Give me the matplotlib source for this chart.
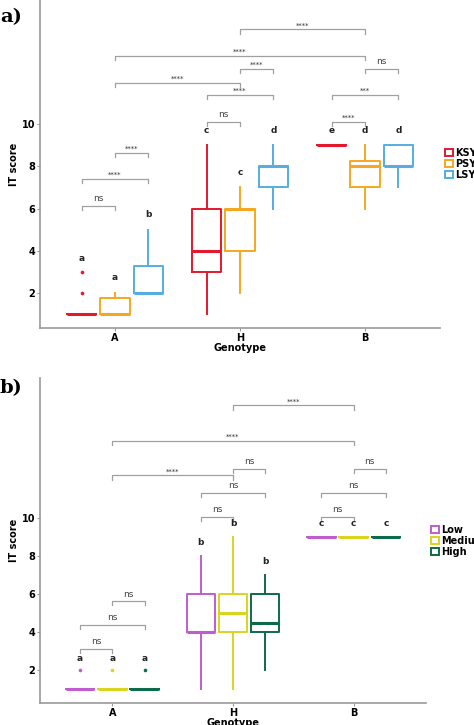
import matplotlib
matplotlib.use("Agg")
import matplotlib.pyplot as plt
from matplotlib.patches import Patch

genotypes = ["A", "H", "B"]

# Panel a: per genotype, per line: (whislo, q1, med, q3, whishi)
a_groups = ["KSY", "PSY", "LSY"]
a_colors = ["#E3182D", "#F5A81F", "#55AEDF"]
a_stats = {
    "KSY": [(1, 1, 1, 1, 1), (1, 3, 4, 6, 9), (9, 9, 9, 9, 9)],
    "PSY": [(1, 1, 1, 1.75, 2), (2, 4, 6, 6, 7), (6, 7, 8, 8.25, 9)],
    "LSY": [(2, 2, 2, 3.25, 5), (6, 7, 8, 8, 9), (7, 8, 8, 9, 9)],
}
a_fliers = {"KSY": [[2, 3], [], []], "PSY": [[], [], []], "LSY": [[], [], []]}
a_letters = {"KSY": ["a", "c", "e"], "PSY": ["a", "c", "d"], "LSY": ["b", "d", "d"]}
a_letter_y = {"KSY": [3.4, 9.5, 9.5], "PSY": [2.5, 7.5, 9.5], "LSY": [5.5, 9.5, 9.5]}
# brackets: (x1 genotype idx, x1 group idx, x2 genotype idx, x2 group idx, y, label)
a_brackets = [
    (0, 0, 0, 1, 6.12, "ns"), (0, 0, 0, 2, 7.39, "****"), (0, 1, 0, 2, 8.64, "****"),
    (1, 0, 1, 1, 10.11, "ns"), (1, 0, 1, 2, 11.38, "****"), (1, 1, 1, 2, 12.64, "****"),
    (2, 0, 2, 1, 10.11, "****"), (2, 0, 2, 2, 11.38, "***"), (2, 1, 2, 2, 12.64, "ns"),
    (0, 1, 1, 1, 11.96, "****"), (0, 1, 2, 1, 13.24, "****"), (1, 1, 2, 1, 14.5, "****"),
]

# Panel b
b_groups = ["Low", "Medium", "High"]
b_colors = ["#C05CCF", "#D8D420", "#0C6B4A"]
b_stats = {
    "Low": [(1, 1, 1, 1, 1), (1, 4, 4, 6, 8), (9, 9, 9, 9, 9)],
    "Medium": [(1, 1, 1, 1, 1), (1, 4, 5, 6, 9), (9, 9, 9, 9, 9)],
    "High": [(1, 1, 1, 1, 1), (2, 4, 4.5, 6, 7), (9, 9, 9, 9, 9)],
}
b_fliers = {"Low": [[2], [], []], "Medium": [[2], [], []], "High": [[2], [], []]}
b_letters = {"Low": ["a", "b", "c"], "Medium": ["a", "b", "c"], "High": ["a", "b", "c"]}
b_letter_y = {"Low": [2.4, 8.5, 9.5], "Medium": [2.4, 9.5, 9.5], "High": [2.4, 7.5, 9.5]}
b_brackets = [
    (0, 0, 0, 1, 3.14, "ns"), (0, 0, 0, 2, 4.40, "ns"), (0, 1, 0, 2, 5.66, "ns"),
    (1, 0, 1, 1, 10.1, "ns"), (1, 0, 1, 2, 11.36, "ns"), (1, 1, 1, 2, 12.62, "ns"),
    (2, 0, 2, 1, 10.1, "ns"), (2, 0, 2, 2, 11.36, "ns"), (2, 1, 2, 2, 12.62, "ns"),
    (0, 1, 1, 1, 12.27, "****"), (0, 1, 2, 1, 14.1, "****"), (1, 1, 2, 1, 15.96, "****"),
]

OFF = 0.267
W = 0.235
GRAY = "#A0A0A0"


def panel(ax, groups, colors, stats, fliers, letters, letter_y, brackets, ylim, tick_h, fsz_mark):
    for gi, (g, c) in enumerate(zip(groups, colors)):
        for ci in range(3):
            lo, q1, med, q3, hi = stats[g][ci]
            st = [dict(whislo=lo, q1=q1, med=med, q3=q3, whishi=hi, fliers=fliers[g][ci])]
            x = ci + (gi - 1) * OFF
            ax.bxp(st, positions=[x], widths=W, showcaps=False,
                   boxprops=dict(color=c, lw=1.4),
                   whiskerprops=dict(color=c, lw=1.4),
                   medianprops=dict(color=c, lw=2.2),
                   flierprops=dict(marker="o", markersize=1.6, markerfacecolor=c,
                                   markeredgecolor=c))
            ax.text(x, letter_y[g][ci], letters[g][ci], ha="center", va="bottom",
                    fontsize=6.5, fontweight="bold", color="#222222")
    for c1, g1, c2, g2, y, lab in brackets:
        x1 = c1 + (g1 - 1) * OFF
        x2 = c2 + (g2 - 1) * OFF
        ax.plot([x1, x1, x2, x2], [y - tick_h, y, y, y - tick_h], color=GRAY, lw=0.9)
        if lab == "ns":
            ax.text((x1 + x2) / 2, y + 0.12, lab, ha="center", va="bottom", fontsize=6.5,
                    color="#444444")
        else:
            ax.text((x1 + x2) / 2, y + 0.05, lab, ha="center", va="bottom", fontsize=fsz_mark,
                    color="#333333")
    ax.set_xlim(-0.6, 2.6)
    ax.set_ylim(*ylim)
    ax.set_xticks(range(3))
    ax.set_xticklabels(genotypes, fontsize=7, fontweight="bold")
    ax.set_yticks([2, 4, 6, 8, 10])
    ax.set_yticklabels(["2", "4", "6", "8", "10"], fontsize=7, fontweight="bold")
    ax.set_ylabel("IT score", fontsize=7, fontweight="bold", labelpad=2)
    ax.set_xlabel("Genotype", fontsize=7, fontweight="bold", labelpad=0)
    for s in ["top", "right"]:
        ax.spines[s].set_visible(False)
    for s in ["left", "bottom"]:
        ax.spines[s].set_color("#999999")
        ax.spines[s].set_linewidth(1.2)
    ax.tick_params(length=2, color="#999999", pad=1.5)
    handles = [Patch(facecolor="white", edgecolor=c, lw=1.4, label=g) for g, c in zip(groups, colors)]
    ax.legend(handles=handles, loc="center left", bbox_to_anchor=(1.0, 0.5), frameon=False,
              prop=dict(size=7, weight="bold"), handlelength=0.8, handleheight=0.8,
              handletextpad=0.3, labelspacing=0.1, borderpad=0)


fig = plt.figure(figsize=(4.74, 7.25), dpi=100)
ax1 = fig.add_axes([0.0844, 0.5476, 0.8439, 0.4524])
ax2 = fig.add_axes([0.0844, 0.0300, 0.8143, 0.4486])
panel(ax1, a_groups, a_colors, a_stats, a_fliers, a_letters, a_letter_y, a_brackets,
      (0.33, 15.9), 0.2, 5)
panel(ax2, b_groups, b_colors, b_stats, b_fliers, b_letters, b_letter_y, b_brackets,
      (0.26, 17.4), 0.22, 5)
fig.text(0.0, 0.977, "a)", fontsize=14, fontweight="bold", family="DejaVu Serif", va="center")
fig.text(0.0, 0.465, "b)", fontsize=14, fontweight="bold", family="DejaVu Serif", va="center")
fig.savefig("out.png", dpi=100)
